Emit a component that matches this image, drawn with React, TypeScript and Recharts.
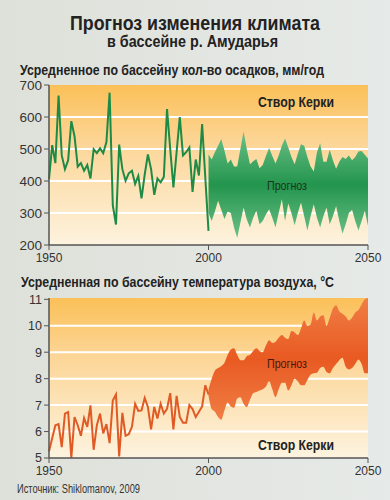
import React from "react";
import {
  Area,
  CartesianGrid,
  ComposedChart,
  Line,
  XAxis,
  YAxis,
} from "recharts";

// precipitation, mm/year, 1950..2000
const precipHist = [
  406, 512, 456, 667, 480, 437, 465, 587, 540, 445, 456, 432, 450, 408, 499,
  487, 502, 487, 522, 676, 324, 264, 514, 437, 401, 424, 432, 391, 416, 346,
  420, 483, 437, 357, 408, 396, 413, 625, 500, 380, 490, 600, 480, 490, 505,
  366, 467, 417, 578, 410, 244,
];
// forecast envelope, 2000..2050
const precipHigh = [
  483, 467, 490, 510, 531, 495, 455, 467, 445, 445, 500, 555, 500, 452, 462,
  469, 440, 450, 478, 503, 478, 455, 480, 510, 533, 505, 475, 452, 485, 515,
  510, 475, 445, 430, 490, 518, 460, 460, 498, 465, 438, 460, 475, 469, 480,
  465, 475, 492, 494, 482, 470,
];
const precipLow = [
  300, 275, 305, 338, 310, 281, 305, 300, 255, 222, 270, 317, 280, 255, 285,
  307, 265, 275, 295, 312, 285, 255, 300, 343, 275, 330, 300, 262, 300, 333,
  290, 245, 290, 327, 285, 255, 290, 317, 265, 290, 322, 275, 235, 265, 300,
  310, 275, 245, 275, 307, 260,
];

// air temperature, °C, 1950..2000
const tempHist = [
  5.25, 5.75, 6.24, 6.28, 5.41, 6.68, 6.74, 5.0, 6.55, 6.24, 5.84, 6.51, 6.18,
  6.99, 5.31, 6.24, 6.68, 5.93, 6.28, 5.56, 7.17, 7.4, 5.06, 6.71, 5.84, 5.9,
  6.18, 7.05, 6.78, 6.8, 7.27, 6.93, 6.08, 6.93, 6.49, 7.05, 6.68, 6.86, 7.45,
  6.08, 7.35, 6.55, 6.33, 6.33, 7.0, 6.85, 6.55, 6.75, 6.95, 7.75, 7.4,
];
const tempHigh = [
  7.6, 8.0, 8.3, 8.4, 8.47, 8.6, 8.9, 9.1, 9.15, 8.9, 8.7, 8.7, 8.85, 8.9,
  9.05, 9.15, 9.05, 9.0, 9.25, 9.45, 9.35, 9.4, 9.55, 9.65, 9.55, 9.5, 9.8,
  9.75, 9.65, 9.9, 10.2, 10.0, 10.05, 10.5, 10.2, 10.35, 10.4, 10.0, 10.3,
  10.65, 10.78, 10.55, 10.45, 10.35, 10.2, 10.3, 10.5, 10.6, 10.8, 11.0, 11.05,
];
const tempLow = [
  7.35, 6.85, 6.75, 6.55, 6.45, 6.8, 7.1, 6.95, 6.9, 7.25, 7.3, 7.05, 6.92,
  7.2, 7.45, 7.5, 7.55, 7.6, 7.7, 7.9, 7.6, 7.3, 7.6, 7.85, 7.85, 7.55, 7.75,
  8.0, 7.9, 7.75, 7.75, 7.95, 8.15, 8.2, 8.22, 8.4, 8.45, 8.25, 8.2, 8.4, 8.55,
  8.7, 8.79, 8.45, 8.35, 8.4, 8.55, 8.72, 8.55, 8.2, 8.2,
];

const yearTicks = [1950, 2000, 2050];
const precipTicks = [200, 300, 400, 500, 600, 700];
const tempTicks = [5, 6, 7, 8, 9, 10, 11];

type Row = { year: number; hist?: number; band?: [number, number] };

function buildRows(hist: number[], high: number[], low: number[]) {
  const rows: Row[] = [];
  for (let i = 0; i <= 100; i++) {
    const row: Row = { year: 1950 + i };
    if (i < hist.length) row.hist = hist[i];
    if (i >= 50) row.band = [low[i - 50], high[i - 50]];
    rows.push(row);
  }
  return rows;
}

const precipRows = buildRows(precipHist, precipHigh, precipLow);
const tempRows = buildRows(tempHist, tempHigh, tempLow);

const FONT = "'Liberation Sans', Arial, sans-serif";
const AXIS = "#555";

function ClimatePanel({
  rows,
  ticks,
  domain,
  lineColor,
  bgId,
  bandId,
  bandEdge,
  bandMid,
  curve,
  yFont,
}: {
  rows: Row[];
  ticks: number[];
  domain: [number, number];
  lineColor: string;
  bgId: string;
  bandId: string;
  bandEdge: string;
  bandMid: string;
  curve: "linear" | "monotone";
  yFont: number;
}) {
  return (
    <ComposedChart
      width={390}
      height={187}
      data={rows}
      margin={{ top: 7, right: 22, bottom: 0, left: 0 }}
    >
      <defs>
        <linearGradient id={bgId} x1="0" y1="0" x2="0" y2="1">
          <stop offset="0%" stopColor="#fbc058" />
          <stop offset="35%" stopColor="#fcd595" />
          <stop offset="100%" stopColor="#fdf3df" />
        </linearGradient>
        <linearGradient id={bandId} x1="0" y1="0" x2="0" y2="1">
          <stop offset="0%" stopColor={bandEdge} />
          <stop offset="50%" stopColor={bandMid} />
          <stop offset="100%" stopColor={bandEdge} />
        </linearGradient>
      </defs>
      <CartesianGrid
        vertical={false}
        horizontalValues={ticks.slice(1, -1)}
        stroke="#ffffff"
        strokeWidth={2}
        fill={`url(#${bgId})`}
        fillOpacity={1}
      />
      <XAxis
        dataKey="year"
        type="number"
        domain={[1950, 2050]}
        ticks={yearTicks}
        height={20}
        tickSize={5}
        tickMargin={3}
        axisLine={{ stroke: AXIS, strokeWidth: 1.5 }}
        tickLine={{ stroke: AXIS }}
        tick={{ fontSize: 12, fill: "#333", fontFamily: FONT }}
      />
      <YAxis
        type="number"
        domain={domain}
        ticks={ticks}
        interval={0}
        width={49}
        tickSize={5}
        tickMargin={2}
        axisLine={{ stroke: AXIS, strokeWidth: 1.5 }}
        tickLine={{ stroke: AXIS }}
        tick={{ fontSize: yFont, fill: "#333", fontFamily: FONT }}
      />
      <Area
        dataKey="band"
        type={curve}
        stroke="none"
        fill={`url(#${bandId})`}
        fillOpacity={1}
        isAnimationActive={false}
      />
      <Line
        dataKey="hist"
        type="linear"
        stroke={lineColor}
        strokeWidth={2}
        dot={false}
        isAnimationActive={false}
      />
    </ComposedChart>
  );
}

function Label({
  x,
  y,
  size,
  len,
  bold,
  color = "#222",
  children,
}: {
  x: number;
  y: number;
  size: number;
  len: number;
  bold?: boolean;
  color?: string;
  children: string;
}) {
  return (
    <text
      x={x}
      y={y}
      fontSize={size}
      fontWeight={bold ? 700 : 400}
      fill={color}
      fontFamily={FONT}
      textLength={len}
      lengthAdjust="spacingAndGlyphs"
    >
      {children}
    </text>
  );
}

export default function App() {
  return (
    <div
      style={{
        position: "absolute",
        left: 0,
        top: 0,
        width: 390,
        height: 500,
        overflow: "hidden",
        background: "linear-gradient(90deg, #dee1d9 0%, #e6eae8 100%)",
      }}
    >
      <div style={{ position: "absolute", left: 0, top: 78 }}>
        <ClimatePanel
          rows={precipRows}
          ticks={precipTicks}
          domain={[200, 700]}
          lineColor="#1d8a45"
          bgId="bgPrecip"
          bandId="bandPrecip"
          bandEdge="#6cc088"
          bandMid="#23954d"
          curve="linear"
          yFont={13.5}
        />
      </div>
      <div style={{ position: "absolute", left: 0, top: 291 }}>
        <ClimatePanel
          rows={tempRows}
          ticks={tempTicks}
          domain={[5, 11]}
          lineColor="#e05a26"
          bgId="bgTemp"
          bandId="bandTemp"
          bandEdge="#f07e45"
          bandMid="#e85a22"
          curve="monotone"
          yFont={12.5}
        />
      </div>
      <svg
        width={390}
        height={500}
        style={{ position: "absolute", left: 0, top: 0, pointerEvents: "none" }}
      >
        <Label x={70} y={30} size={20} len={250} bold>
          Прогноз изменения климата
        </Label>
        <Label x={107} y={47} size={16} len={171} bold>
          в бассейне р. Амударья
        </Label>
        <Label x={20} y={75} size={14} len={304} bold>
          Усредненное по бассейну кол-во осадков, мм/год
        </Label>
        <Label x={258} y={107} size={14} len={76} bold>
          Створ Керки
        </Label>
        <Label x={267} y={190} size={12} len={40} color="#1c3320">
          Прогноз
        </Label>
        <Label x={21} y={287} size={14} len={313} bold>
          Усредненная по бассейну температура воздуха, °C
        </Label>
        <Label x={267} y={368} size={12} len={40} color="#4a170c">
          Прогноз
        </Label>
        <Label x={258} y={450} size={14} len={76} bold>
          Створ Керки
        </Label>
        <Label x={17} y={493} size={12} len={123} color="#333">
          Источник: Shiklomanov, 2009
        </Label>
      </svg>
    </div>
  );
}
